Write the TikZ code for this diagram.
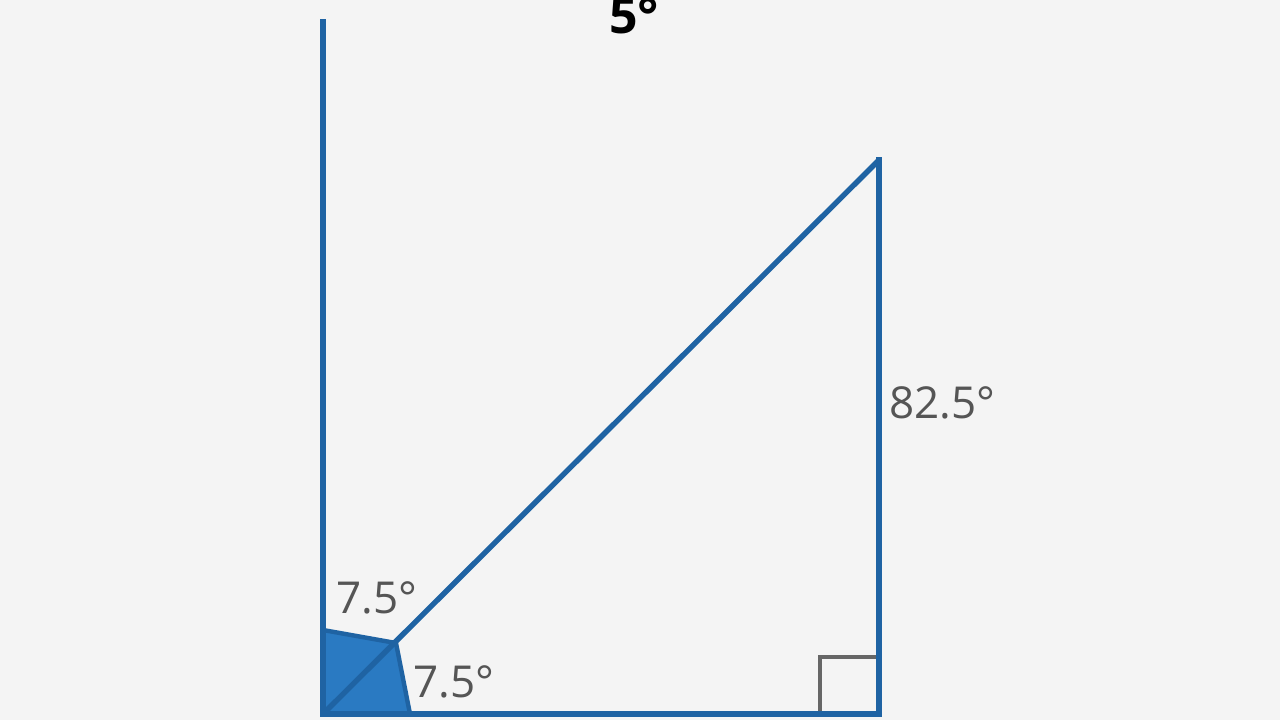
\documentclass[tikz,border=0pt]{standalone}
\usepackage{fontspec}
\setmainfont{Open Sans}
\definecolor{bg}{HTML}{F4F4F4}
\definecolor{lineblue}{HTML}{1F63A3}
\definecolor{fillblue}{HTML}{2A7AC2}
\definecolor{markgray}{HTML}{666666}
\definecolor{labelgray}{HTML}{555555}
\begin{document}
\begin{tikzpicture}[x=0.5pt,y=-0.5pt,
  edge/.style={draw=lineblue,line width=2.7pt},
  anglelabel/.style={text=labelgray,font=\fontsize{22}{26}\selectfont,inner sep=0pt,anchor=base west}]
\fill[bg] (0,0) rectangle (1280,720);
\useasboundingbox (0,0) rectangle (1280,720);
\coordinate (A) at (323,714);
\coordinate (T) at (323,22);
\coordinate (B) at (879,714);
\coordinate (C) at (879,160);
\coordinate (P) at (396,643);
\coordinate (Q) at (323,630);
\coordinate (R) at (410,714);
% filled angle marks
\filldraw[fill=fillblue,draw=lineblue,line width=2.2pt,line join=round] (A) -- (Q) -- (P) -- (R) -- cycle;
% right angle marker
\draw[markgray,line width=2.2pt] (820,714) -- (820,657) -- (879,657);
% sides
\draw[edge,line cap=rect] (A) -- (T);
\draw[edge,line cap=rect,line join=miter] (A) -- (B) -- (C);
\draw[edge,line cap=round] (C) -- (A);
% labels
\node[anglelabel] (l1) at (336,613) {7.5°};
\node[anglelabel] (l2) at (413,697) {7.5°};
\node[anglelabel] (l3) at (889,418) {82.5°};
\node[font=\bfseries\fontsize{25}{30}\selectfont,text=black,inner sep=0pt,anchor=base] (top) at (634,33) {5°};
\end{tikzpicture}
\end{document}
